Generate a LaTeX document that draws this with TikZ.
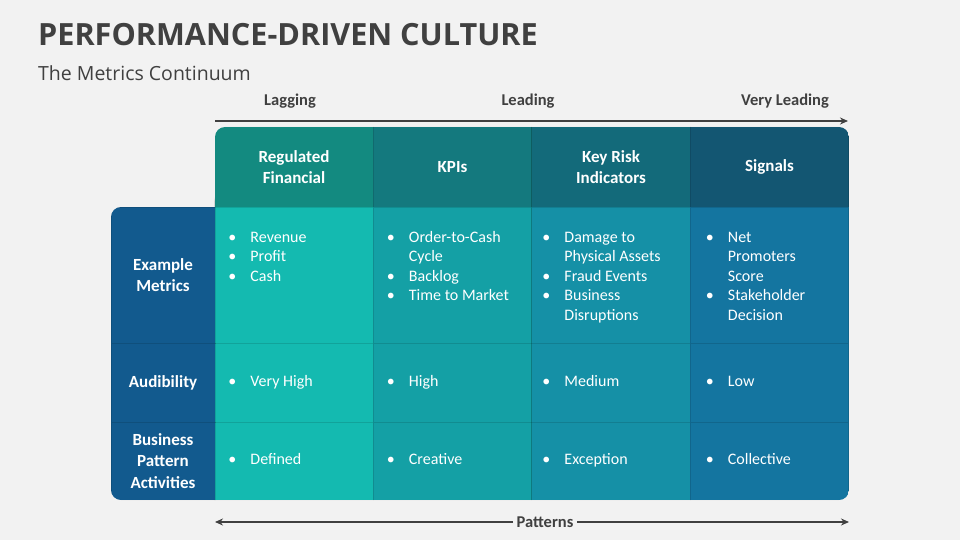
\documentclass[tikz,border=0pt]{standalone}
\usepackage{fontspec}
\setmainfont{Carlito}
\newfontfamily\titlefont{Open Sans}
\usetikzlibrary{arrows.meta}
\definecolor{bgcol}{HTML}{F2F2F2}
\definecolor{txtcol}{HTML}{404040}
\definecolor{hdA}{HTML}{138A80}
\definecolor{hdB}{HTML}{14797E}
\definecolor{hdC}{HTML}{136A7A}
\definecolor{hdD}{HTML}{135672}
\definecolor{bdA}{HTML}{14BAB0}
\definecolor{bdB}{HTML}{14A0A5}
\definecolor{bdC}{HTML}{1590A6}
\definecolor{bdD}{HTML}{1475A0}
\definecolor{sidecol}{HTML}{125A8E}
\newcommand{\itm}[1]{\strut\makebox[22pt][l]{\textbullet}#1}
\newcommand{\cnt}[1]{\strut\hspace*{22pt}#1}
\tikzset{
  cell/.style={minimum width=158.5pt, inner sep=0pt, draw=black, draw opacity=0.12, line width=1pt},
  hdtext/.style={text=white, font=\fontsize{17}{21}\selectfont\bfseries, align=center},
  bodytext/.style={text=white, font=\fontsize{16}{19.5}\selectfont, align=left, inner sep=0pt},
  toplabel/.style={text=txtcol, font=\fontsize{16.5}{18}\selectfont\bfseries},
}
\begin{document}
\begin{tikzpicture}[x=1pt,y=-1pt]
  \fill[bgcol] (0,0) rectangle (960,540);
  \useasboundingbox (0,0) rectangle (960,540);
  \node[anchor=west, text=txtcol, font=\titlefont\fontsize{30.6}{32}\selectfont\bfseries, inner sep=0pt] (title) at (38,35) {PERFORMANCE-DRIVEN CULTURE};
  \node[anchor=west, text=txtcol, font=\titlefont\fontsize{19.5}{22}\selectfont, inner sep=0pt] (subtitle) at (38,73) {The Metrics Continuum};
%
  \node[toplabel] (lag) at (290,101) {Lagging};
  \node[toplabel] (lead) at (528,101) {Leading};
  \node[toplabel] (vlead) at (785,101) {Very Leading};
  \coordinate (topL) at (215,121);
  \coordinate (topR) at (848,121);
  \draw[txtcol, line width=2pt, -{Stealth[length=8pt,width=7pt]}] (topL) -- (topR);
%
  \begin{scope}
    \clip[rounded corners=10pt] (215,207) -- (215,127) -- (849,127) -- (849,500) -- (111,500) -- (111,207) -- cycle;
    % header row
    \node[cell, fill=hdA, minimum height=80pt] (hA) at (294,167) {};
    \node[cell, fill=hdB, minimum height=80pt] (hB) at (452.5,167) {};
    \node[cell, fill=hdC, minimum height=80pt] (hC) at (611,167) {};
    \node[cell, fill=hdD, minimum height=80pt] (hD) at (769.5,167) {};
    % body rows
    \foreach \c/\x in {A/294,B/452.5,C/611,D/769.5}{
      \node[cell, fill=bd\c, minimum height=136pt] (r1\c) at (\x,275) {};
      \node[cell, fill=bd\c, minimum height=79pt] (r2\c) at (\x,382.5) {};
      \node[cell, fill=bd\c, minimum height=78pt] (r3\c) at (\x,461) {};
    }
    % side column
    \node[cell, fill=sidecol, minimum width=104pt, minimum height=136pt] (s1) at (163,275) {};
    \node[cell, fill=sidecol, minimum width=104pt, minimum height=79pt] (s2) at (163,382.5) {};
    \node[cell, fill=sidecol, minimum width=104pt, minimum height=78pt] (s3) at (163,461) {};
  \end{scope}
%
  \node[hdtext] at (hA) {Regulated\\Financial};
  \node[hdtext] at (hB) {KPIs};
  \node[hdtext] at (hC) {Key Risk\\Indicators};
  \node[hdtext] at (hD) {Signals};
  \node[hdtext] at (s1) {Example\\Metrics};
  \node[hdtext] at (s2) {Audibility};
  \node[hdtext, font=\fontsize{17}{21.5}\selectfont\bfseries] at (s3) {Business\\Pattern\\Activities};
%
  \node[bodytext, anchor=north west] at ([xshift=14pt, yshift=-22pt]r1A.north west) {\itm{Revenue}\\\itm{Profit}\\\itm{Cash}};
  \node[bodytext, anchor=north west] at ([xshift=14pt, yshift=-22pt]r1B.north west) {\itm{Order-to-Cash}\\\cnt{Cycle}\\\itm{Backlog}\\\itm{Time to Market}};
  \node[bodytext, anchor=north west] at ([xshift=11pt, yshift=-22pt]r1C.north west) {\itm{Damage to}\\\cnt{Physical Assets}\\\itm{Fraud Events}\\\itm{Business}\\\cnt{Disruptions}};
  \node[bodytext, anchor=north west] at ([xshift=16pt, yshift=-22pt]r1D.north west) {\itm{Net}\\\cnt{Promoters}\\\cnt{Score}\\\itm{Stakeholder}\\\cnt{Decision}};
  \foreach \c/\dx/\a/\b in {A/14/Very High/Defined, B/14/High/Creative, C/11/Medium/Exception, D/16/Low/Collective}{
    \node[bodytext, anchor=west] at ([xshift=\dx pt]r2\c.west) {\itm{\a}};
    \node[bodytext, anchor=west] at ([xshift=\dx pt]r3\c.west) {\itm{\b}};
  }
%
  \node[toplabel] (pat) at (545,522) {Patterns};
  \coordinate (botL) at (215,522);
  \coordinate (botR) at (849,522);
  \draw[txtcol, line width=2pt, -{Stealth[length=8pt,width=7pt]}] (pat.east) -- (botR);
  \draw[txtcol, line width=2pt, -{Stealth[length=8pt,width=7pt]}] (pat.west) -- (botL);
\end{tikzpicture}
\end{document}
